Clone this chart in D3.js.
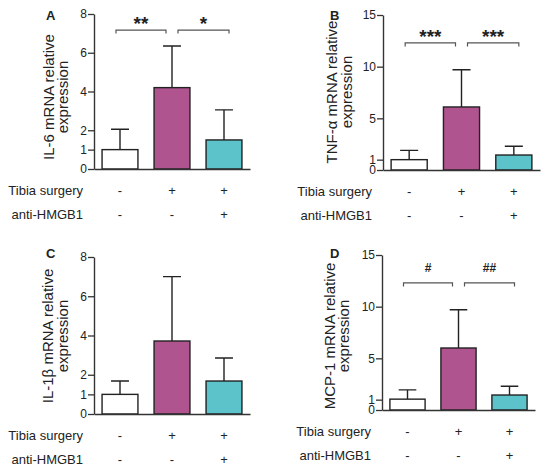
<!DOCTYPE html>
<html>
<head>
<meta charset="utf-8">
<script src="https://cdn.jsdelivr.net/npm/d3@7"></script>
<style>
  body { margin: 0; background: #fff; }
  text { font-family: "Liberation Sans", Arial, sans-serif; fill: #222; }
</style>
</head>
<body>
<svg width="550" height="474"></svg>
<script>
// groups and the +/- rows under each bar
var groups = ["Sham", "Surgery", "Surgery + anti-HMGB1"];
var tibiaSigns = ["-", "+", "+"];
var hmgbSigns = ["-", "-", "+"];

// mean and SD (upper error bar only)
var il6Mean = [1.0, 4.2, 1.5];
var il6Sd = [1.05, 2.15, 1.55];
var tnfMean = [1.0, 6.1, 1.45];
var tnfSd = [0.9, 3.6, 0.85];
var il1bMean = [1.0, 3.72, 1.68];
var il1bSd = [0.68, 3.28, 1.17];
var mcp1Mean = [1.05, 6.0, 1.45];
var mcp1Sd = [0.9, 3.7, 0.85];

// y tick values
var ticks8 = [0, 1, 2, 4, 6, 8];
var ticks15 = [0, 1, 5, 10, 15];

// significance marks: [group0 vs group1, group1 vs group2]
var il6Sig = ["**", "*"];
var tnfSig = ["***", "***"];
var mcp1Sig = ["#", "##"];

var colors = ["#ffffff", "#b0548f", "#5cc3cb"];

var panels = [
  { letter: "A", label: ["IL-6 mRNA relative", "expression"], mean: il6Mean, sd: il6Sd,
    ticks: ticks8, max: 8, sig: il6Sig, sigLevel: 7.17, sigSize: 19, sigDy: 0,
    left: 94, right: 250, top: 14, bottom: 169, labelX: [54, 68], labelY: 97, letterX: 46, letterY: 20 },
  { letter: "B", label: ["TNF-\u03b1 mRNA relative", "expression"], mean: tnfMean, sd: tnfSd,
    ticks: ticks15, max: 15, sig: tnfSig, sigLevel: 12.3, sigSize: 19, sigDy: 0,
    left: 383, right: 540, top: 15, bottom: 170, labelX: [337, 352], labelY: 92, letterX: 330, letterY: 20 },
  { letter: "C", label: ["IL-1\u03b2 mRNA relative", "expression"], mean: il1bMean, sd: il1bSd,
    ticks: ticks8, max: 8, sig: null,
    left: 94, right: 250, top: 257, bottom: 414, labelX: [53, 68], labelY: 336, letterX: 46, letterY: 258 },
  { letter: "D", label: ["MCP-1 mRNA relative", "expression"], mean: mcp1Mean, sd: mcp1Sd,
    ticks: ticks15, max: 15, sig: mcp1Sig, sigLevel: 12.3, sigSize: 12, sigDy: -11,
    left: 382, right: 535, top: 255, bottom: 410, labelX: [335, 349], labelY: 336, letterX: 330, letterY: 258 }
];

var svg = d3.select("svg");

panels.forEach(drawPanel);

function drawPanel(p) {
  var g = svg.append("g");

  var x = d3.scaleBand()
      .domain(groups)
      .range([p.left, p.right])
      .paddingInner(0.31)
      .paddingOuter(0.155);

  var y = d3.scaleLinear()
      .domain([0, p.max])
      .range([p.bottom, p.top]);

  // error bars (drawn first so the bar outline sits on top)
  g.selectAll(".err")
    .data(groups)
    .enter()
    .append("path")
      .attr("d", function(d, i) {
        var cx = x(d) + x.bandwidth() / 2;
        var cap = x.bandwidth() / 4;
        var yt = y(p.mean[i] + p.sd[i]);
        return "M" + cx + "," + y(p.mean[i]) + "V" + yt +
               "M" + (cx - cap) + "," + yt + "H" + (cx + cap);
      })
      .attr("stroke", "#222")
      .attr("stroke-width", 1.4)
      .attr("fill", "none");

  g.selectAll(".bar")
    .data(groups)
    .enter()
    .append("rect")
      .attr("x", function(d) { return x(d); })
      .attr("y", function(d, i) { return y(p.mean[i]); })
      .attr("width", x.bandwidth())
      .attr("height", function(d, i) { return y(0) - y(p.mean[i]); })
      .attr("fill", function(d, i) { return colors[i]; })
      .attr("stroke", "#222")
      .attr("stroke-width", 1.4);

  // axes
  var yAxis = d3.axisLeft(y)
      .tickValues(p.ticks)
      .tickFormat(d3.format("d"))
      .tickSize(6)
      .tickPadding(1)
      .tickSizeOuter(0);

  var ya = g.append("g")
      .attr("transform", "translate(" + p.left + ",0)")
      .call(yAxis);
  ya.select(".domain").attr("stroke", "#333").attr("stroke-width", 1.4);
  ya.selectAll(".tick line").attr("stroke", "#333").attr("stroke-width", 1.3);
  ya.selectAll(".tick text")
      .style("font-size", "12px")
      .style("font-family", '"Liberation Sans", Arial, sans-serif')
      .attr("fill", "#333");

  var xa = g.append("g")
      .attr("transform", "translate(0," + p.bottom + ")")
      .call(d3.axisBottom(x).tickSize(0).tickFormat(""));
  xa.select(".domain").attr("stroke", "#333").attr("stroke-width", 1.4);

  // y label, two lines
  p.label.forEach(function(line, k) {
    g.append("text")
      .attr("transform", "translate(" + p.labelX[k] + "," + p.labelY + ") rotate(-90)")
      .attr("text-anchor", "middle")
      .style("font-size", "15px")
      .attr("fill", "#333")
      .text(line);
  });

  g.append("text")
    .attr("x", p.letterX)
    .attr("y", p.letterY)
    .style("font-size", "13px")
    .style("font-weight", "bold")
    .text(p.letter);

  // treatment rows
  var rows = [["Tibia surgery", tibiaSigns, 25.5], ["anti-HMGB1", hmgbSigns, 50]];
  rows.forEach(function(r) {
    g.append("text")
      .attr("x", p.left - 11)
      .attr("y", p.bottom + r[2])
      .attr("text-anchor", "end")
      .style("font-size", "13px")
      .text(r[0]);
    g.selectAll(null)
      .data(groups)
      .enter()
      .append("text")
        .attr("x", function(d) { return x(d) + x.bandwidth() / 2; })
        .attr("y", p.bottom + r[2])
        .attr("text-anchor", "middle")
        .style("font-size", "13px")
        .text(function(d, i) { return r[1][i]; });
  });

  // significance brackets
  if (p.sig) {
    var c = groups.map(function(d) { return x(d) + x.bandwidth() / 2; });
    var spans = [[c[0] - 4, c[1] - 6], [c[1] + 6, c[2] + 5]];
    var by = y(p.sigLevel);
    spans.forEach(function(s, k) {
      g.append("path")
        .attr("d", "M" + s[0] + "," + (by + 3.5) + "V" + by + "H" + s[1] + "V" + (by + 3.5))
        .attr("stroke", "#555")
        .attr("stroke-width", 1.2)
        .attr("fill", "none");
      g.append("text")
        .attr("x", (s[0] + s[1]) / 2)
        .attr("y", by + p.sigDy)
        .attr("text-anchor", "middle")
        .style("font-size", p.sigSize + "px")
        .style("font-weight", "bold")
        .attr("fill", "#333")
        .text(p.sig[k]);
    });
  }
}
</script>
</body>
</html>
